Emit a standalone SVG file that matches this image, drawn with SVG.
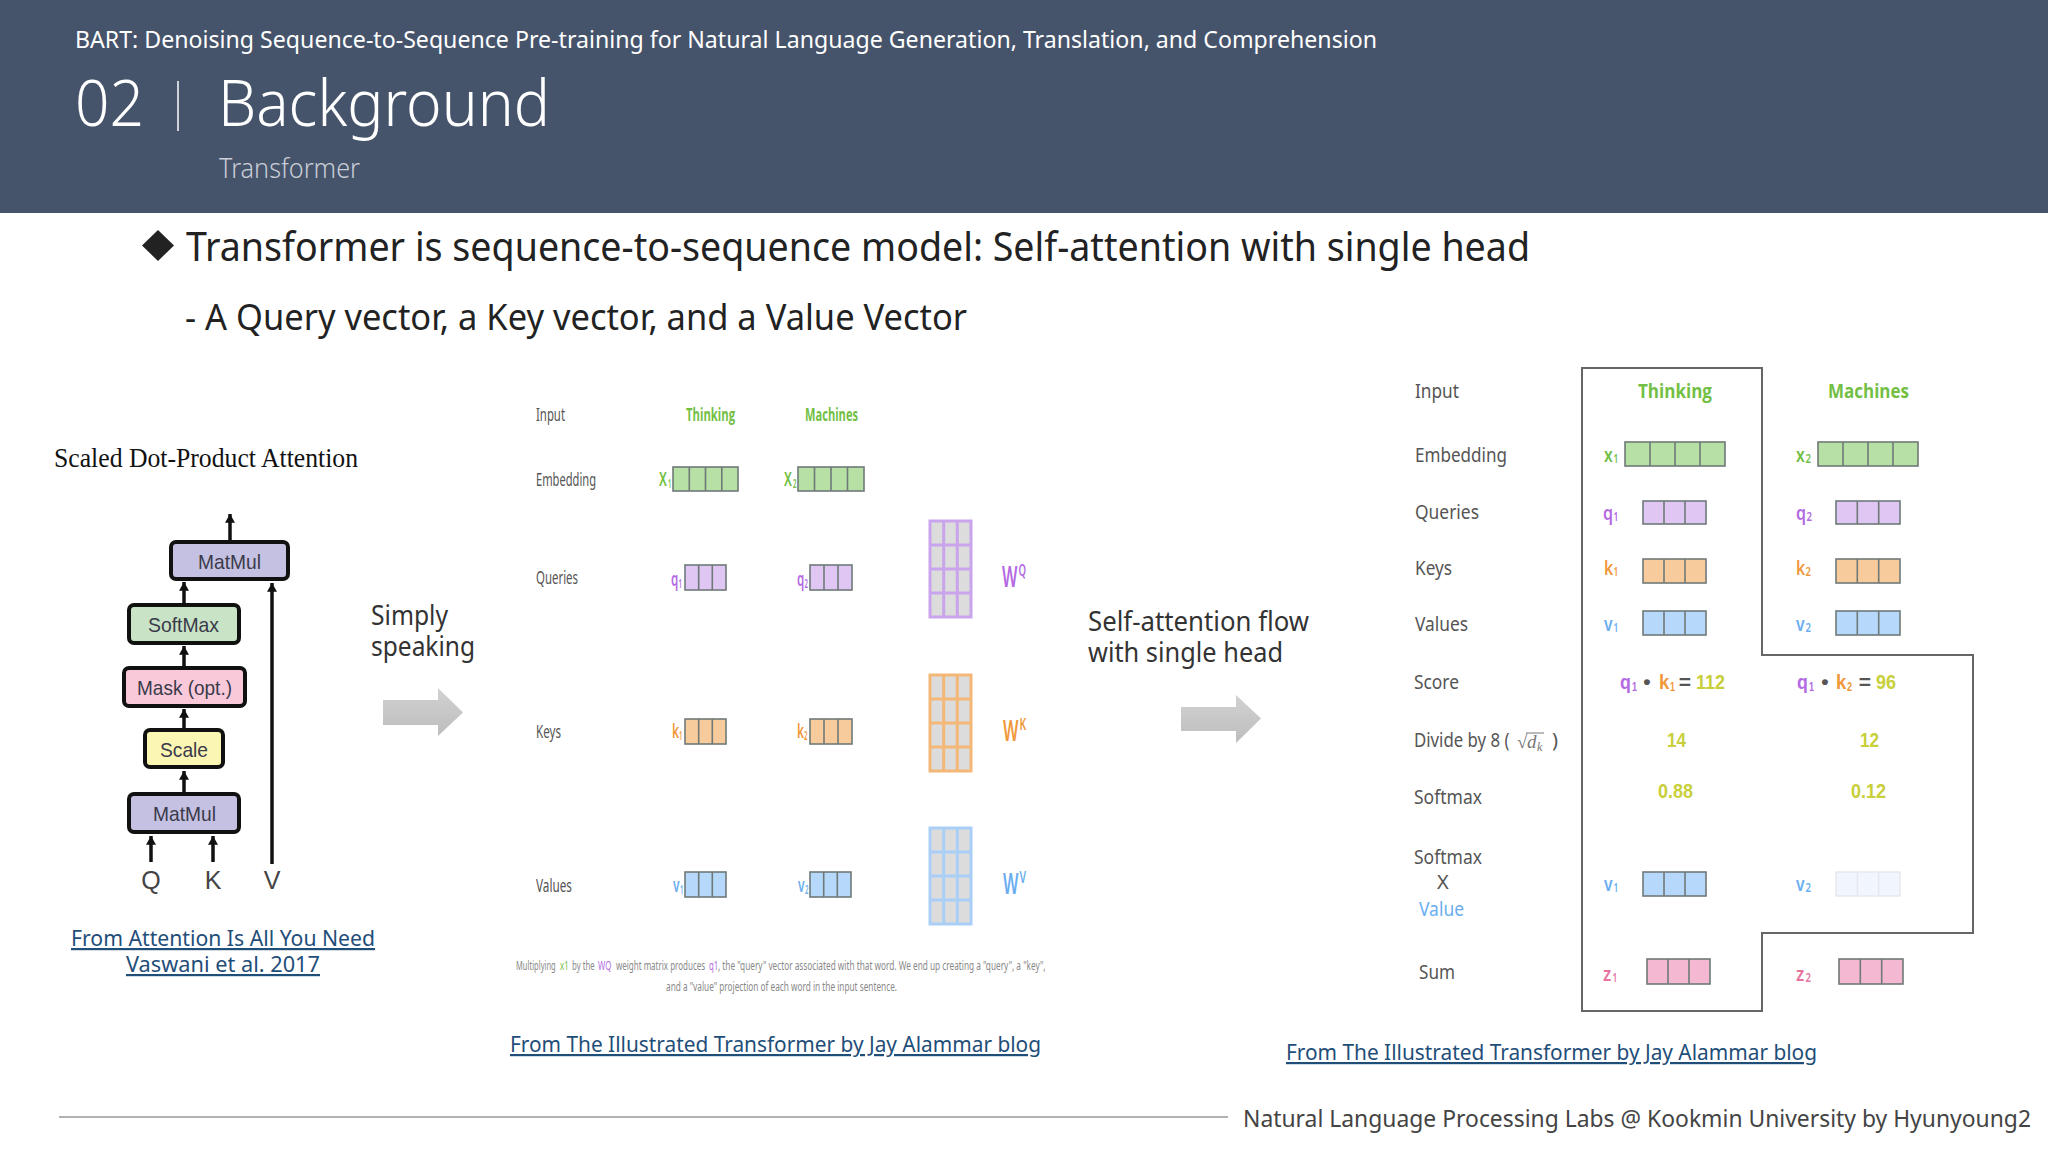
<svg xmlns="http://www.w3.org/2000/svg" width="2048" height="1152" viewBox="0 0 2048 1152">
<defs>
<marker id="ah" markerWidth="10" markerHeight="10" refX="7" refY="4" orient="auto" markerUnits="userSpaceOnUse" viewBox="0 0 8 8"><path d="M0,0 L7,4 L0,8 Z" fill="#111"/></marker>
<linearGradient id="gr" x1="0" y1="0" x2="0" y2="1"><stop offset="0" stop-color="#d2d2d2"/><stop offset="1" stop-color="#bdbdbd"/></linearGradient>
</defs>
<style>
text{font-family:"Noto Sans","Open Sans","Liberation Sans",sans-serif}
.hw{fill:#fff}
.blk{fill:#222}
.link{fill:#1f4e79;text-decoration:underline}
.box{stroke:#111;stroke-width:4}
.hv{font-family:"Liberation Sans",Arial,sans-serif;fill:#3a3a4a;font-size:21px}
.qkv{font-family:"Liberation Sans",Arial,sans-serif;fill:#444;font-size:25px;text-anchor:middle}
.lab{fill:#555;font-size:20px}
.labm{fill:#555;font-size:18px}
.wd{fill:#72bf44;font-weight:700;font-size:18.500px;font-family:"Open Sans","Noto Sans",sans-serif}
.wdr{fill:#72bf44;font-weight:700;font-size:20px;font-family:"Open Sans","Noto Sans",sans-serif}
.cap{font-size:13px;fill:#888}
.g{fill:#72bf44}.p{fill:#b36ae2}.o{fill:#f0983a}.b{fill:#6aaef0}.k{fill:#e8729f}.y{fill:#c8cf3a}
.s{font-size:20px;font-weight:600}
.t{font-size:12px;font-weight:600}
.sc{font-family:"Liberation Sans",Arial,sans-serif;font-size:21px;font-weight:700}
.sct{font-family:"Liberation Sans",Arial,sans-serif;font-size:13px;font-weight:700}
.op{font-family:"Liberation Sans",Arial,sans-serif;font-size:21px;font-weight:700;fill:#555;text-anchor:middle}
.g2{fill:#b6e0a4}.p2{fill:#dfc6f3}.o2{fill:#f8cb9c}.b2{fill:#b5d8fb}.k2{fill:#f4b8d3}
.cell{stroke:#6f7a78;stroke-width:1.600}
.div{stroke:#6f7a78;stroke-width:1.600;fill:none}
.mx{fill:#dcdcdc;stroke-width:3}
.mxl{fill:none;stroke-width:3}
.wl{font-size:28px;font-weight:600}
.wt{font-size:16px;font-weight:600}
.num{font-family:"Liberation Sans",Arial,sans-serif;font-size:21px;font-weight:700;fill:#c8cf3a}
</style>

<rect id="page" width="2048" height="1152" fill="#fff"/>
<g id="header">
<rect width="2048" height="213" fill="#46546b"/>
<text class="hw" x="75" y="48" font-size="24" textLength="1302" lengthAdjust="spacingAndGlyphs">BART: Denoising Sequence-to-Sequence Pre-training for Natural Language Generation, Translation, and Comprehension</text>
<text class="hw" x="75" y="126" font-size="64" font-weight="300" textLength="69" lengthAdjust="spacingAndGlyphs">02</text>
<line x1="178" y1="81" x2="178" y2="131" stroke="#fff" stroke-width="1.500"/>
<text class="hw" x="218" y="126" font-size="64" font-weight="300" textLength="332" lengthAdjust="spacingAndGlyphs">Background</text>
<text x="219" y="178" font-size="27" font-weight="300" fill="#c8cdd6" textLength="141" lengthAdjust="spacingAndGlyphs">Transformer</text>
</g>

<g id="headings">
<path d="M158,230 L174,245.500 L158,261 L142,245.500 Z" fill="#222"/>
<text class="blk" x="186" y="261" font-size="40" textLength="1344" lengthAdjust="spacingAndGlyphs">Transformer is sequence-to-sequence model: Self-attention with single head</text>
<text class="blk" x="185" y="330" font-size="36" textLength="782" lengthAdjust="spacingAndGlyphs">- A Query vector, a Key vector, and a Value Vector</text>
</g>

<g id="attention-title"><text x="54" y="467" font-size="28" fill="#111" style="font-family:'Liberation Serif',serif" textLength="304" lengthAdjust="spacingAndGlyphs">Scaled Dot-Product Attention</text></g>

<g id="connectors" fill="none" stroke="#111" stroke-width="3.500">
<line x1="230" y1="542" x2="230" y2="514" marker-end="url(#ah)"/>
<line x1="184" y1="605" x2="184" y2="582" marker-end="url(#ah)"/>
<line x1="184" y1="667" x2="184" y2="646" marker-end="url(#ah)"/>
<line x1="184" y1="730" x2="184" y2="709" marker-end="url(#ah)"/>
<line x1="184" y1="793" x2="184" y2="771" marker-end="url(#ah)"/>
<line x1="151" y1="862" x2="151" y2="836" marker-end="url(#ah)"/>
<line x1="213" y1="862" x2="213" y2="836" marker-end="url(#ah)"/>
<line x1="272" y1="864" x2="272" y2="583" marker-end="url(#ah)"/>
</g>

<g id="node-matmul-top"><rect class="box" x="171" y="542" width="117" height="37" rx="5" fill="#c5c1e2"/><text class="hv" x="198" y="569" textLength="63" lengthAdjust="spacingAndGlyphs">MatMul</text></g>
<g id="node-softmax"><rect class="box" x="129" y="605" width="110" height="38" rx="5" fill="#c9e3c6"/><text class="hv" x="148" y="632" textLength="71" lengthAdjust="spacingAndGlyphs">SoftMax</text></g>
<g id="node-mask"><rect class="box" x="124" y="668" width="121" height="38" rx="5" fill="#f9c9d9"/><text class="hv" x="137" y="695" textLength="95" lengthAdjust="spacingAndGlyphs">Mask (opt.)</text></g>
<g id="node-scale"><rect class="box" x="145" y="730" width="78" height="37" rx="5" fill="#fbf6b4"/><text class="hv" x="160" y="757" textLength="48" lengthAdjust="spacingAndGlyphs">Scale</text></g>
<g id="node-matmul-bottom"><rect class="box" x="129" y="794" width="110" height="38" rx="5" fill="#c5c1e2"/><text class="hv" x="153" y="821" textLength="63" lengthAdjust="spacingAndGlyphs">MatMul</text></g>
<g id="node-q"><text class="qkv" x="151" y="889">Q</text></g>
<g id="node-k"><text class="qkv" x="213" y="889">K</text></g>
<g id="node-v"><text class="qkv" x="272" y="889">V</text></g>
<g id="link-1">
<text class="link" x="71" y="946" font-size="22" textLength="304" lengthAdjust="spacingAndGlyphs">From Attention Is All You Need</text>
<text class="link" x="126" y="972" font-size="22" textLength="194" lengthAdjust="spacingAndGlyphs">Vaswani et al. 2017</text>
</g>

<g id="simply-speaking">
<text x="371" y="625" font-size="27" fill="#333" textLength="77" lengthAdjust="spacingAndGlyphs">Simply</text>
<text x="371" y="656" font-size="27" fill="#333" textLength="104" lengthAdjust="spacingAndGlyphs">speaking</text>
<path d="M383,700 H438 V688 L463,712.500 L438,736 V725 H383 Z" fill="url(#gr)"/>
</g>

<g id="middle-panel">
<g id="mid-row-labels">
<text class="labm" x="536" y="421" textLength="29" lengthAdjust="spacingAndGlyphs">Input</text>
<text class="labm" x="536" y="486" textLength="60" lengthAdjust="spacingAndGlyphs">Embedding</text>
<text class="labm" x="536" y="584" textLength="42" lengthAdjust="spacingAndGlyphs">Queries</text>
<text class="labm" x="536" y="738" textLength="25" lengthAdjust="spacingAndGlyphs">Keys</text>
<text class="labm" x="536" y="892" textLength="36" lengthAdjust="spacingAndGlyphs">Values</text>
</g>
<text class="wd" x="686" y="421" textLength="49" lengthAdjust="spacingAndGlyphs">Thinking</text>
<text class="wd" x="805" y="421" textLength="53" lengthAdjust="spacingAndGlyphs">Machines</text>

<g id="mid-x1"><text class="s g" transform="translate(659,486) scale(.62,1)">X</text><text class="t g" transform="translate(668,488) scale(.5,1)">1</text><rect class="cell g2" x="673" y="467" width="65" height="24"/><path class="div" d="M689.300,467V491M705.500,467V491M721.800,467V491"/></g>
<g id="mid-x2"><text class="s g" transform="translate(784,486) scale(.62,1)">X</text><text class="t g" transform="translate(793,488) scale(.5,1)">2</text><rect class="cell g2" x="798" y="467" width="66" height="24"/><path class="div" d="M814.500,467V491M831,467V491M847.500,467V491"/></g>
<g id="mid-q1"><text class="s p" transform="translate(671,586) scale(.58,1)">q</text><text class="t p" transform="translate(678.500,588) scale(.5,1)">1</text><rect class="cell p2" x="685" y="565" width="41" height="25"/><path class="div" d="M698.700,565V590M712.300,565V590"/></g>
<g id="mid-q2"><text class="s p" transform="translate(797,586) scale(.58,1)">q</text><text class="t p" transform="translate(804.500,588) scale(.5,1)">2</text><rect class="cell p2" x="810" y="565" width="42" height="25"/><path class="div" d="M824,565V590M838,565V590"/></g>
<g id="mid-k1"><text class="s o" transform="translate(672,738) scale(.6,1)">k</text><text class="t o" transform="translate(679,740) scale(.5,1)">1</text><rect class="cell o2" x="685" y="719" width="41" height="25"/><path class="div" d="M698.700,719V744M712.300,719V744"/></g>
<g id="mid-k2"><text class="s o" transform="translate(797,738) scale(.6,1)">k</text><text class="t o" transform="translate(804,740) scale(.5,1)">2</text><rect class="cell o2" x="810" y="719" width="42" height="25"/><path class="div" d="M824,719V744M838,719V744"/></g>
<g id="mid-v1"><text class="s b" transform="translate(673,892) scale(.6,1)">v</text><text class="t b" transform="translate(680,894) scale(.5,1)">1</text><rect class="cell b2" x="685" y="872" width="41" height="25"/><path class="div" d="M698.700,872V897M712.300,872V897"/></g>
<g id="mid-v2"><text class="s b" transform="translate(798,892) scale(.6,1)">v</text><text class="t b" transform="translate(805,894) scale(.5,1)">2</text><rect class="cell b2" x="810" y="872" width="41" height="25"/><path class="div" d="M823.700,872V897M837.300,872V897"/></g>

<g id="matrix-wq"><rect class="mx" x="930" y="521" width="41" height="96" stroke="#c9a4ec"/><path class="mxl" stroke="#c9a4ec" d="M943.700,521V617M957.300,521V617M930,545H971M930,569H971M930,593H971"/><text class="wl p" transform="translate(1002,587) scale(.58,1)">W</text><text class="wt p" transform="translate(1018.500,576) scale(.6,1)">Q</text></g>
<g id="matrix-wk"><rect class="mx" x="930" y="675" width="41" height="96" stroke="#f3b777"/><path class="mxl" stroke="#f3b777" d="M943.700,675V771M957.300,675V771M930,699H971M930,723H971M930,747H971"/><text class="wl o" transform="translate(1003,741) scale(.58,1)">W</text><text class="wt o" transform="translate(1019.500,730) scale(.65,1)">K</text></g>
<g id="matrix-wv"><rect class="mx" x="930" y="828" width="41" height="96" stroke="#a9cff6"/><path class="mxl" stroke="#a9cff6" d="M943.700,828V924M957.300,828V924M930,852H971M930,876H971M930,900H971"/><text class="wl b" transform="translate(1003,894) scale(.58,1)">W</text><text class="wt b" transform="translate(1019.500,883) scale(.65,1)">V</text></g>

<g id="caption">
<text class="cap" transform="translate(516,970) scale(.58,1)">Multiplying</text>
<text class="cap" style="fill:#72bf44" transform="translate(560,970) scale(.6,1)">x1</text>
<text class="cap" transform="translate(572,970) scale(.6,1)">by the</text>
<text class="cap" style="fill:#b36ae2" transform="translate(598,970) scale(.6,1)">WQ</text>
<text class="cap" transform="translate(616,970) scale(.615,1)">weight matrix produces</text>
<text class="cap" style="fill:#b36ae2" transform="translate(709,970) scale(.6,1)">q1</text>
<text class="cap" transform="translate(718,970) scale(.636,1)">, the "query" vector associated with that word. We end up creating a "query", a "key",</text>
<text class="cap" x="666" y="991" textLength="231" lengthAdjust="spacingAndGlyphs">and a "value" projection of each word in the input sentence.</text>
</g>
<text class="link" x="510" y="1052" font-size="22" textLength="531" lengthAdjust="spacingAndGlyphs">From The Illustrated Transformer by Jay Alammar blog</text>
</g>

<g id="self-attention-label">
<text x="1088" y="631" font-size="27" fill="#333" textLength="221" lengthAdjust="spacingAndGlyphs">Self-attention flow</text>
<text x="1088" y="662" font-size="27" fill="#333" textLength="195" lengthAdjust="spacingAndGlyphs">with single head</text>
<path d="M1181,707 H1236 V695 L1261,718.500 L1236,743 V731 H1181 Z" fill="url(#gr)"/>
</g>

<g id="right-panel">
<path d="M1582,368 H1762 V655 H1973 V933 H1762 V1011 H1582 Z" fill="none" stroke="#666" stroke-width="2"/>
<g id="right-row-labels">
<text class="lab" x="1415" y="398" textLength="44" lengthAdjust="spacingAndGlyphs">Input</text>
<text class="lab" x="1415" y="462" textLength="92" lengthAdjust="spacingAndGlyphs">Embedding</text>
<text class="lab" x="1415" y="519" textLength="64" lengthAdjust="spacingAndGlyphs">Queries</text>
<text class="lab" x="1415" y="575" textLength="37" lengthAdjust="spacingAndGlyphs">Keys</text>
<text class="lab" x="1415" y="631" textLength="53" lengthAdjust="spacingAndGlyphs">Values</text>
<text class="lab" x="1414" y="689" textLength="45" lengthAdjust="spacingAndGlyphs">Score</text>
<text class="lab" transform="translate(1414,747) scale(.84,1)">Divide by 8 (</text>
<text x="1517" y="748" font-size="19" fill="#777" style="font-family:'Liberation Serif',serif">√</text>
<text x="1527" y="748" font-size="19" font-style="italic" fill="#777" style="font-family:'Liberation Serif',serif">d</text>
<text x="1537" y="751" font-size="12" font-style="italic" fill="#777" style="font-family:'Liberation Serif',serif">k</text>
<line x1="1526" y1="733" x2="1544" y2="733" stroke="#777" stroke-width="1"/>
<text class="lab" x="1552" y="747">)</text>
<text class="lab" x="1414" y="804" textLength="68" lengthAdjust="spacingAndGlyphs">Softmax</text>
<text class="lab" x="1414" y="864" textLength="68" lengthAdjust="spacingAndGlyphs">Softmax</text>
<text class="lab" x="1437" y="889">X</text>
<text class="lab" x="1419" y="916" style="fill:#6aaef0" textLength="45" lengthAdjust="spacingAndGlyphs">Value</text>
<text class="lab" x="1419" y="979" textLength="36" lengthAdjust="spacingAndGlyphs">Sum</text>
</g>
<text class="wdr" x="1638" y="398" textLength="74" lengthAdjust="spacingAndGlyphs">Thinking</text>
<text class="wdr" x="1828" y="398" textLength="81" lengthAdjust="spacingAndGlyphs">Machines</text>

<g id="r-x1"><text class="s g" transform="translate(1604,462) scale(.78,1)">x</text><text class="t g" transform="translate(1613.500,463) scale(.7,1)">1</text><rect class="cell g2" x="1625" y="442" width="100" height="24"/><path class="div" d="M1650,442V466M1675,442V466M1700,442V466"/></g>
<g id="r-x2"><text class="s g" transform="translate(1796,462) scale(.78,1)">x</text><text class="t g" transform="translate(1805.500,463) scale(.8,1)">2</text><rect class="cell g2" x="1818" y="442" width="100" height="24"/><path class="div" d="M1843,442V466M1868,442V466M1893,442V466"/></g>
<g id="r-q1"><text class="s p" transform="translate(1603,520) scale(.8,1)">q</text><text class="t p" transform="translate(1613.500,521) scale(.7,1)">1</text><rect class="cell p2" x="1643" y="501" width="63" height="23"/><path class="div" d="M1664,501V524M1685,501V524"/></g>
<g id="r-q2"><text class="s p" transform="translate(1796,520) scale(.8,1)">q</text><text class="t p" transform="translate(1806.500,521) scale(.8,1)">2</text><rect class="cell p2" x="1836" y="501" width="64" height="23"/><path class="div" d="M1857.300,501V524M1878.700,501V524"/></g>
<g id="r-k1"><text class="s o" transform="translate(1604,575) scale(.78,1)">k</text><text class="t o" transform="translate(1613.500,576) scale(.7,1)">1</text><rect class="cell o2" x="1643" y="559" width="63" height="24"/><path class="div" d="M1664,559V583M1685,559V583"/></g>
<g id="r-k2"><text class="s o" transform="translate(1796,575) scale(.78,1)">k</text><text class="t o" transform="translate(1805.500,576) scale(.8,1)">2</text><rect class="cell o2" x="1836" y="559" width="64" height="24"/><path class="div" d="M1857.300,559V583M1878.700,559V583"/></g>
<g id="r-v1"><text class="s b" transform="translate(1604,631) scale(.78,1)">v</text><text class="t b" transform="translate(1613.500,632) scale(.7,1)">1</text><rect class="cell b2" x="1643" y="611" width="63" height="24"/><path class="div" d="M1664,611V635M1685,611V635"/></g>
<g id="r-v2"><text class="s b" transform="translate(1796,631) scale(.78,1)">v</text><text class="t b" transform="translate(1805.500,632) scale(.8,1)">2</text><rect class="cell b2" x="1836" y="611" width="64" height="24"/><path class="div" d="M1857.300,611V635M1878.700,611V635"/></g>

<g id="r-score">
<text class="sc p" transform="translate(1620,689) scale(.85,1)">q</text><text class="sct p" transform="translate(1632,691) scale(.7,1)">1</text>
<text class="op" x="1647" y="689">•</text>
<text class="sc o" transform="translate(1659,689) scale(.88,1)">k</text><text class="sct o" transform="translate(1670,691) scale(.7,1)">1</text>
<text class="op" x="1685" y="689">=</text>
<text class="sc y" x="1696" y="689" textLength="29" lengthAdjust="spacingAndGlyphs">112</text>
<text class="sc p" transform="translate(1797,689) scale(.85,1)">q</text><text class="sct p" transform="translate(1809,691) scale(.7,1)">1</text>
<text class="op" x="1825" y="689">•</text>
<text class="sc o" transform="translate(1836,689) scale(.88,1)">k</text><text class="sct o" transform="translate(1847,691) scale(.7,1)">2</text>
<text class="op" x="1865" y="689">=</text>
<text class="sc y" x="1876" y="689" textLength="20" lengthAdjust="spacingAndGlyphs">96</text>
<text class="num" x="1667" y="747" textLength="19" lengthAdjust="spacingAndGlyphs">14</text>
<text class="num" x="1860" y="747" textLength="19" lengthAdjust="spacingAndGlyphs">12</text>
<text class="num" x="1658" y="798" textLength="35" lengthAdjust="spacingAndGlyphs">0.88</text>
<text class="num" x="1851" y="798" textLength="35" lengthAdjust="spacingAndGlyphs">0.12</text>
</g>
<g id="r-v1b"><text class="s b" transform="translate(1604,891) scale(.78,1)">v</text><text class="t b" transform="translate(1613.500,892) scale(.7,1)">1</text><rect class="cell b2" x="1643" y="872" width="63" height="24"/><path class="div" d="M1664,872V896M1685,872V896"/></g>
<g id="r-v2b"><text class="s b" transform="translate(1796,891) scale(.78,1)">v</text><text class="t b" transform="translate(1805.500,892) scale(.8,1)">2</text><rect x="1836" y="872" width="64" height="24" fill="#f1f5fc" stroke="#e6e9f0" stroke-width="1.500"/><path d="M1857.300,872V896M1878.700,872V896" stroke="#e6e9f0" stroke-width="1.500"/></g>
<g id="r-z1"><text class="s k" transform="translate(1603,981) scale(.85,1)">z</text><text class="t k" transform="translate(1612.500,982) scale(.7,1)">1</text><rect class="cell k2" x="1647" y="959" width="63" height="25"/><path class="div" d="M1668,959V984M1689,959V984"/></g>
<g id="r-z2"><text class="s k" transform="translate(1796,981) scale(.85,1)">z</text><text class="t k" transform="translate(1805.500,982) scale(.8,1)">2</text><rect class="cell k2" x="1839" y="959" width="64" height="25"/><path class="div" d="M1860.300,959V984M1881.700,959V984"/></g>
</g>
<text class="link" x="1286" y="1060" font-size="22" textLength="531" lengthAdjust="spacingAndGlyphs">From The Illustrated Transformer by Jay Alammar blog</text>

<g id="footer">
<line x1="59" y1="1117" x2="1228" y2="1117" stroke="#666" stroke-width="1.200"/>
<text x="1243" y="1127" font-size="23" fill="#444" textLength="788" lengthAdjust="spacingAndGlyphs">Natural Language Processing Labs @ Kookmin University by Hyunyoung2</text>
</g>
</svg>
